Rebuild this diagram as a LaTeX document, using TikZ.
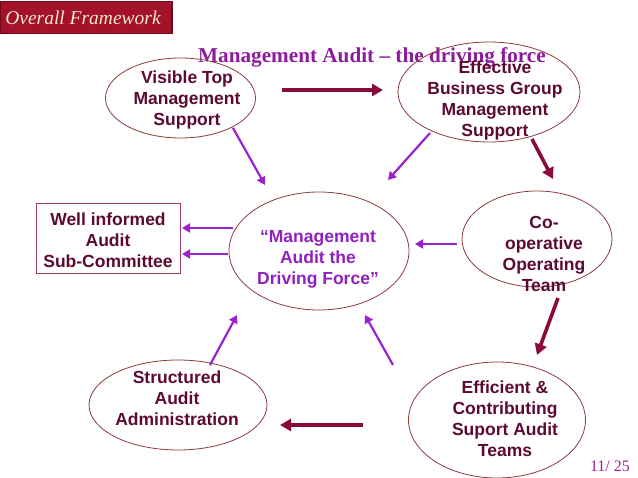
\documentclass[tikz,border=0pt]{standalone}
\usepackage{fontspec}
\setmainfont{Liberation Serif}
\setsansfont{Liberation Sans}
\usetikzlibrary{shapes.geometric,arrows.meta}
\definecolor{banner}{HTML}{A3122B}
\definecolor{bannerdark}{HTML}{6E0A1C}
\definecolor{bannertext}{HTML}{F6E7C9}
\definecolor{titlepurple}{HTML}{8C1C9C}
\definecolor{ell}{HTML}{8B3A3A}
\definecolor{txt}{HTML}{5C0A33}
\definecolor{violetarrow}{HTML}{9B22D0}
\definecolor{redarrow}{HTML}{8A0A3C}
\definecolor{ctrtext}{HTML}{9020C0}
\definecolor{pagenum}{HTML}{A0208F}
\definecolor{boxline}{HTML}{9A3A6A}
\tikzset{
  oval/.style={ellipse, draw=ell, line width=0.8pt, inner sep=0pt},
  lbl/.style={font=\sffamily\bfseries\fontsize{17.5}{21}\selectfont, align=center, text=txt, inner sep=0pt},
  varrow/.style={draw=violetarrow, line width=2.2pt, -{Triangle[length=8pt,width=9pt]}},
  rarrow/.style={draw=redarrow, line width=3.6pt, -{Triangle[length=11pt,width=12pt]}}
}
\begin{document}
\begin{tikzpicture}[x=1pt,y=-1pt]
\useasboundingbox (0,0) rectangle (638,478);
% banner
\node[draw=bannerdark, line width=1.5pt, fill=banner, minimum width=172pt, minimum height=32pt, inner sep=0pt] (banner) at (86,17.5) {};
\node[font=\rmfamily\itshape\fontsize{19.5}{22}\selectfont, text=bannertext, inner sep=0pt] (bannerT) at (83,18) {Overall Framework};
% title
\node[font=\rmfamily\bfseries\fontsize{21.2}{24}\selectfont, text=titlepurple, anchor=base, inner sep=0pt] (title) at (372,63) {Management Audit -- the driving force};
% ellipses
\node[oval, minimum width=150pt, minimum height=80pt] (vis) at (180.5,98) {};
\node[lbl] (visT) at (187,100) {Visible Top\\Management\\Support};
\node[oval, minimum width=182pt, minimum height=100pt] (eff) at (489,92) {};
\node[lbl] (effT) at (495,100) {Effective\\Business Group\\Management\\Support};
\node[oval, minimum width=180pt, minimum height=118pt] (ctr) at (319,251) {};
\node[lbl, text=ctrtext] (ctrT) at (318,259) {``Management\\Audit the\\Driving Force''};
\node[oval, minimum width=150pt, minimum height=96pt] (coop) at (537,239) {};
\node[lbl] (coopT) at (544,254) {Co-\\operative\\Operating\\Team};
\node[oval, minimum width=177pt, minimum height=116pt] (effi) at (497,420) {};
\node[lbl] (effiT) at (505,419) {Efficient \&\\Contributing\\Suport Audit\\Teams};
\node[oval, minimum width=178pt, minimum height=90pt] (str) at (178,405) {};
\node[lbl] (strT) at (177,398) {Structured\\Audit\\Administration};
\node[draw=boxline, line width=0.8pt, minimum width=144pt, minimum height=70pt, inner sep=0pt] (box) at (108,238) {};
\node[lbl] (boxT) at (108,240) {Well informed\\Audit\\Sub-Committee};
% page number
\node[font=\rmfamily\fontsize{16}{18}\selectfont, text=pagenum, anchor=base, inner sep=0pt] (page) at (610,472) {11/ 25};
% arrow end points
\coordinate (a1s) at (233,128); \coordinate (a1e) at (265,185);
\coordinate (a2s) at (430,133); \coordinate (a2e) at (388,180);
\coordinate (a3s) at (457,244); \coordinate (a3e) at (415,244);
\coordinate (a4s) at (233,228); \coordinate (a4e) at (182,228);
\coordinate (a5s) at (228,254); \coordinate (a5e) at (182,254);
\coordinate (a6s) at (210,365); \coordinate (a6e) at (237,315);
\coordinate (a7s) at (393,365); \coordinate (a7e) at (365,315);
\coordinate (r1s) at (282,90); \coordinate (r1e) at (383,90);
\coordinate (r2s) at (532,139); \coordinate (r2e) at (553,179);
\coordinate (r3s) at (558,298); \coordinate (r3e) at (537,355);
\coordinate (r4s) at (363,425); \coordinate (r4e) at (280,425);
\draw[varrow] (a1s) -- (a1e);
\draw[varrow] (a2s) -- (a2e);
\draw[varrow] (a3s) -- (a3e);
\draw[varrow] (a4s) -- (a4e);
\draw[varrow] (a5s) -- (a5e);
\draw[varrow] (a6s) -- (a6e);
\draw[varrow] (a7s) -- (a7e);
\draw[rarrow] (r1s) -- (r1e);
\draw[rarrow] (r2s) -- (r2e);
\draw[rarrow] (r3s) -- (r3e);
\draw[rarrow] (r4s) -- (r4e);
\end{tikzpicture}
\end{document}
